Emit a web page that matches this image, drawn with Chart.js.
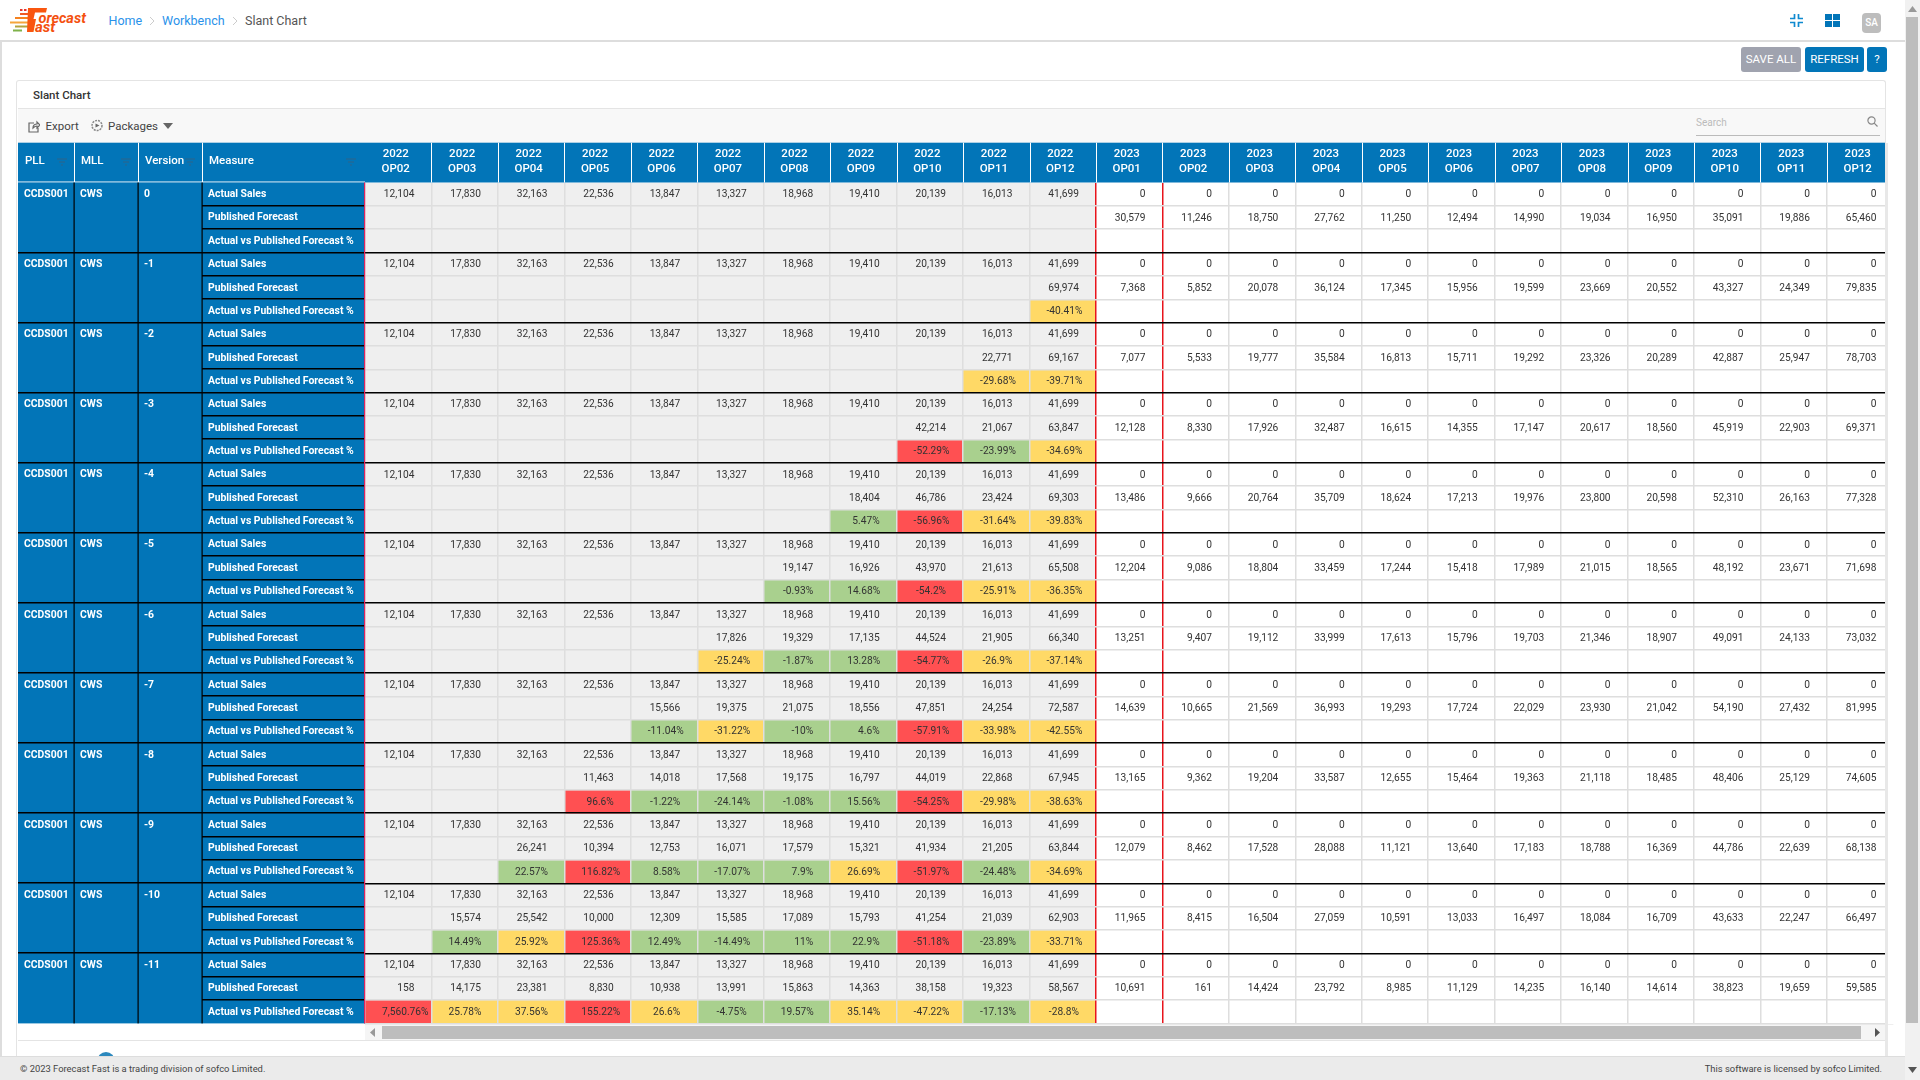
<!DOCTYPE html>
<html>
<head>
<meta charset="utf-8">
<title>Slant Chart</title>
<script src="https://cdn.jsdelivr.net/npm/chart.js@4"></script>
<style>
  html, body { margin: 0; padding: 0; width: 1920px; height: 1080px; overflow: hidden; background: #fff; font-family: Roboto, sans-serif; }
  .abs { position: absolute; white-space: nowrap; }
  #chartCanvas { position: absolute; left: 0; top: 0; z-index: 1; }
  .btn { position: absolute; top: 47px; height: 25px; line-height: 25px; text-align: center; color: #fff; font-size: 11.5px; border-radius: 3px; background: #0275b8; }
</style>
</head>
<body>
<!-- top bar -->
<div class="abs" style="left:0;top:40px;width:1905px;height:1.5px;background:#ddd"></div>
<div class="abs" style="left:0;top:41px;width:1.5px;height:1015px;background:#ddd"></div>
<svg class="abs" style="left:0;top:0" width="100" height="36">
  <rect x="20" y="9" width="2.5" height="2" fill="#e8352b"/>
  <rect x="24" y="9" width="2.5" height="2" fill="#e8352b"/>
  <rect x="20" y="13" width="8" height="2" fill="#f05a22"/>
  <rect x="15" y="17" width="14" height="2" fill="#f58220"/>
  <rect x="10" y="21.5" width="18" height="2" fill="#f6a53a"/>
  <rect x="15" y="25.5" width="13" height="2" fill="#b5a33c"/>
  <rect x="13" y="29.5" width="9" height="2" fill="#7fb24a"/>
  <path d="M28 8H47L46 12.5H35L33.5 19H36L33.5 32H27Z" fill="#f9560f"/>
  <text x="38.5" y="23" font-family="Roboto" font-weight="700" font-style="italic" font-size="14.5" fill="#f4500f">orecast</text>
  <text x="35" y="32" font-family="Roboto" font-weight="700" font-style="italic" font-size="15" fill="#f4500f">ast</text>
</svg>
<div class="abs" style="left:108.5px;top:13px;font-size:12.5px;color:#2a92ea">Home</div>
<svg class="abs" style="left:149px;top:16px" width="6" height="10" fill="none" stroke="#ccc"><path d="M1 1L5 5L1 9"/></svg>
<div class="abs" style="left:162px;top:13px;font-size:12.5px;color:#2a92ea">Workbench</div>
<svg class="abs" style="left:232px;top:16px" width="6" height="10" fill="none" stroke="#ccc"><path d="M1 1L5 5L1 9"/></svg>
<div class="abs" style="left:245px;top:13px;font-size:12.5px;color:#555">Slant Chart</div>
<svg class="abs" style="left:1790px;top:14px" width="13" height="13" fill="none" stroke="#0f8ad0" stroke-width="1.7">
  <path d="M4.5 0V4.5H0M8.5 0V4.5H13M4.5 13V8.5H0M8.5 13V8.5H13"/>
</svg>
<svg class="abs" style="left:1825px;top:14px" width="15" height="13" fill="#0275b8">
  <rect width="7" height="6"/><rect x="8" width="7" height="6"/><rect y="7" width="7" height="6"/><rect x="8" y="7" width="7" height="6"/>
</svg>
<div class="abs" style="left:1862px;top:13px;width:19px;height:20px;line-height:20px;background:#bdbdbd;color:#fff;border-radius:4px;text-align:center;font-size:10px;font-weight:500">SA</div>

<div class="btn" style="left:1741px;width:60px;background:#a0a3af">SAVE ALL</div>
<div class="btn" style="left:1805px;width:59px">REFRESH</div>
<div class="btn" style="left:1867px;width:20px">?</div>

<!-- card -->
<div class="abs" style="left:16px;top:80px;width:1870px;height:976px;border:1.5px solid #e4e4e4;border-bottom:none;border-radius:3px 3px 0 0;box-sizing:border-box"></div>
<div class="abs" style="left:33px;top:88px;font-size:11.5px;font-weight:500;color:#333">Slant Chart</div>
<div class="abs" style="left:18px;top:108px;width:1867px;height:35px;background:#f8f8f8;border-top:1.5px solid #e4e4e4;box-sizing:border-box"></div>
<svg class="abs" style="left:28px;top:120px" width="12" height="13" fill="none" stroke="#666" stroke-width="1.2">
  <path d="M6 3H1V12H10V8M5 8C5 5 7 4 9 4V2L12 5L9 8V6C7 6 6 7 5 8Z"/>
</svg>
<div class="abs" style="left:45.5px;top:119px;font-size:11.5px;color:#444">Export</div>
<svg class="abs" style="left:91px;top:119px" width="12" height="13">
  <circle cx="6" cy="6.5" r="5" fill="none" stroke="#888" stroke-width="1.5" stroke-dasharray="2 1"/>
  <path d="M4.5 4.5L8.5 6.5L4.5 8.5Z" fill="#666"/>
</svg>
<div class="abs" style="left:108px;top:119px;font-size:11.5px;color:#444">Packages</div>
<svg class="abs" style="left:163px;top:123px" width="10" height="6"><path d="M0 0H10L5 6Z" fill="#666"/></svg>
<div class="abs" style="left:1696px;top:117px;font-size:10px;color:#bbb">Search</div>
<div class="abs" style="left:1696px;top:135px;width:184px;height:1px;background:#bbb"></div>
<svg class="abs" style="left:1867px;top:116px" width="11" height="11" fill="none" stroke="#888" stroke-width="1.2">
  <circle cx="4.5" cy="4.5" r="3.6"/><path d="M7.2 7.2L10.5 10.5"/>
</svg>

<canvas id="chartCanvas" width="1920" height="1080"></canvas>

<!-- last column is cut by the card edge, filter icons, scrollbars, footer -->
<div class="abs" style="left:1885px;top:143px;width:3px;height:913px;background:#e8e8e8;z-index:2"></div>
<div class="abs" style="left:1888px;top:143px;width:9px;height:881px;background:#fff;z-index:2"></div>
<svg class="abs" style="left:57px;top:158px;z-index:2" width="10" height="8" stroke="#2f6488"><path d="M0 1H10M2 4H8M4 7H6"/></svg>
<svg class="abs" style="left:121px;top:158px;z-index:2" width="10" height="8" stroke="#2f6488"><path d="M0 1H10M2 4H8M4 7H6"/></svg>
<svg class="abs" style="left:185px;top:158px;z-index:2" width="10" height="8" stroke="#2f6488"><path d="M0 1H10M2 4H8M4 7H6"/></svg>
<svg class="abs" style="left:346px;top:158px;z-index:2" width="10" height="8" stroke="#2f6488"><path d="M0 1H10M2 4H8M4 7H6"/></svg>

<div class="abs" style="left:365px;top:1024px;width:1520px;height:16px;background:#f5f5f5"></div>
<div class="abs" style="left:382px;top:1026px;width:1479px;height:12.5px;background:#bdbdbd"></div>
<svg class="abs" style="left:370px;top:1028px" width="6" height="9"><path d="M5 0V9L0 4.5Z" fill="#999"/></svg>
<svg class="abs" style="left:1875px;top:1028px" width="6" height="9"><path d="M0 0V9L5 4.5Z" fill="#555"/></svg>
<div class="abs" style="left:18px;top:1040px;width:1867px;height:1px;background:#e4e4e4"></div>
<div class="abs" style="left:97px;top:1052px;width:18px;height:18px;border-radius:50%;background:#2b88bd"></div>

<div class="abs" style="left:0;top:1056px;width:1905px;height:24px;background:#ebebeb;border-top:1px solid #ddd;box-sizing:border-box;z-index:2"></div>
<div class="abs" style="left:20px;top:1063px;font-size:9.4px;color:#444;z-index:3">© 2023 Forecast Fast is a trading division of sofco Limited.</div>
<div class="abs" style="right:38px;top:1063px;font-size:9.4px;color:#444;z-index:3">This software is licensed by sofco Limited.</div>

<div class="abs" style="left:1905px;top:0;width:15px;height:1080px;background:#f1f1f1;z-index:3"></div>
<div class="abs" style="left:1905.5px;top:17px;width:12.5px;height:1006px;background:#bdbdbd;z-index:3"></div>
<svg class="abs" style="left:1908px;top:6px;z-index:3" width="9" height="6"><path d="M0 6H9L4.5 0Z" fill="#999"/></svg>
<svg class="abs" style="left:1908px;top:1067px;z-index:3" width="9" height="6"><path d="M0 0H9L4.5 6Z" fill="#555"/></svg>

<script>
// ---------- data ----------
const columnLabels = [
  ["2022","OP02"],["2022","OP03"],["2022","OP04"],["2022","OP05"],["2022","OP06"],["2022","OP07"],
  ["2022","OP08"],["2022","OP09"],["2022","OP10"],["2022","OP11"],["2022","OP12"],
  ["2023","OP01"],["2023","OP02"],["2023","OP03"],["2023","OP04"],["2023","OP05"],["2023","OP06"],
  ["2023","OP07"],["2023","OP08"],["2023","OP09"],["2023","OP10"],["2023","OP11"],["2023","OP12"]
];
const headerNames = ["PLL", "MLL", "Version", "Measure"];
const pllName = "CCDS001";
const mllName = "CWS";
const versions = [0, -1, -2, -3, -4, -5, -6, -7, -8, -9, -10, -11];
const measures = ["Actual Sales", "Published Forecast", "Actual vs Published Forecast %"];

const actualSales = [12104,17830,32163,22536,13847,13327,18968,19410,20139,16013,41699, 0,0,0,0,0,0,0,0,0,0,0,0];

const publishedV0 = [null,null,null,null,null,null,null,null,null,null,null, 30579,11246,18750,27762,11250,12494,14990,19034,16950,35091,19886,65460];
const publishedV1 = [null,null,null,null,null,null,null,null,null,null,69974, 7368,5852,20078,36124,17345,15956,19599,23669,20552,43327,24349,79835];
const publishedV2 = [null,null,null,null,null,null,null,null,null,22771,69167, 7077,5533,19777,35584,16813,15711,19292,23326,20289,42887,25947,78703];
const publishedV3 = [null,null,null,null,null,null,null,null,42214,21067,63847, 12128,8330,17926,32487,16615,14355,17147,20617,18560,45919,22903,69371];
const publishedV4 = [null,null,null,null,null,null,null,18404,46786,23424,69303, 13486,9666,20764,35709,18624,17213,19976,23800,20598,52310,26163,77328];
const publishedV5 = [null,null,null,null,null,null,19147,16926,43970,21613,65508, 12204,9086,18804,33459,17244,15418,17989,21015,18565,48192,23671,71698];
const publishedV6 = [null,null,null,null,null,17826,19329,17135,44524,21905,66340, 13251,9407,19112,33999,17613,15796,19703,21346,18907,49091,24133,73032];
const publishedV7 = [null,null,null,null,15566,19375,21075,18556,47851,24254,72587, 14639,10665,21569,36993,19293,17724,22029,23930,21042,54190,27432,81995];
const publishedV8 = [null,null,null,11463,14018,17568,19175,16797,44019,22868,67945, 13165,9362,19204,33587,12655,15464,19363,21118,18485,48406,25129,74605];
const publishedV9 = [null,null,26241,10394,12753,16071,17579,15321,41934,21205,63844, 12079,8462,17528,28088,11121,13640,17183,18788,16369,44786,22639,68138];
const publishedV10 = [null,15574,25542,10000,12309,15585,17089,15793,41254,21039,62903, 11965,8415,16504,27059,10591,13033,16497,18084,16709,43633,22247,66497];
const publishedV11 = [158,14175,23381,8830,10938,13991,15863,14363,38158,19323,58567, 10691,161,14424,23792,8985,11129,14235,16140,14614,38823,19659,59585];

const percentV0 = [null,null,null,null,null,null,null,null,null,null,null];
const percentV1 = [null,null,null,null,null,null,null,null,null,null,-40.41];
const percentV2 = [null,null,null,null,null,null,null,null,null,-29.68,-39.71];
const percentV3 = [null,null,null,null,null,null,null,null,-52.29,-23.99,-34.69];
const percentV4 = [null,null,null,null,null,null,null,5.47,-56.96,-31.64,-39.83];
const percentV5 = [null,null,null,null,null,null,-0.93,14.68,-54.2,-25.91,-36.35];
const percentV6 = [null,null,null,null,null,-25.24,-1.87,13.28,-54.77,-26.9,-37.14];
const percentV7 = [null,null,null,null,-11.04,-31.22,-10,4.6,-57.91,-33.98,-42.55];
const percentV8 = [null,null,null,96.6,-1.22,-24.14,-1.08,15.56,-54.25,-29.98,-38.63];
const percentV9 = [null,null,22.57,116.82,8.58,-17.07,7.9,26.69,-51.97,-24.48,-34.69];
const percentV10 = [null,14.49,25.92,125.36,12.49,-14.49,11,22.9,-51.18,-23.89,-33.71];
const percentV11 = [7560.76,25.78,37.56,155.22,26.6,-4.75,19.57,35.14,-47.22,-17.13,-28.8];

const publishedRows = [publishedV0,publishedV1,publishedV2,publishedV3,publishedV4,publishedV5,publishedV6,publishedV7,publishedV8,publishedV9,publishedV10,publishedV11];
const percentRows = [percentV0,percentV1,percentV2,percentV3,percentV4,percentV5,percentV6,percentV7,percentV8,percentV9,percentV10,percentV11];

// ---------- styles ----------
const BLUE = "#0275b8";
const LINE = "#dedede";
const FROZEN_COLS = 11;   // 2022 columns are the grey frozen part
const leftEdges = [18, 74, 138, 202, 365];
const textFont = "10.2px Roboto";
const boldFont = "700 10.4px Roboto";

function heatColor(v) {
  const a = Math.abs(v);
  if (a < 25) return "#a9d08e";
  if (a < 50) return "#ffd966";
  return "#ff5052";
}

// one entry per table row: values + how to print them
const tableRows = [];
versions.forEach((_, i) => {
  tableRows.push({ values: actualSales, pct: false });
  tableRows.push({ values: publishedRows[i], pct: false });
  tableRows.push({ values: percentRows[i], pct: true });
});

const datasets = tableRows.map((row, r) => ({
  data: columnLabels.map(() => [r, r + 1]),
  backgroundColor: columnLabels.map((_, c) => {
    const v = row.values[c];
    if (row.pct && v != null) return heatColor(v);
    return c < FROZEN_COLS ? "#efefef" : "#ffffff";
  }),
  grouped: false,
  barPercentage: 1,
  categoryPercentage: 1,
  borderWidth: 0,
  borderSkipped: false
}));

// header band goes under the tick labels
const headerPlugin = {
  id: "headerBand",
  beforeDraw(chart) {
    const { ctx, chartArea } = chart;
    const top = 142.7;
    ctx.save();
    ctx.fillStyle = BLUE;
    ctx.fillRect(18, top, 1885 - 18, chartArea.top - top);
    ctx.fillStyle = "#fff";
    ctx.fillRect(18, chartArea.top - 1, 347, 1);
    const x = chart.scales.x;
    for (let i = 0; i < columnLabels.length; i++) {
      ctx.fillRect(Math.round(x.getPixelForTick(i) + x.width / columnLabels.length / 2), top, 1, chartArea.top - top);
    }
    leftEdges.slice(1, 4).forEach(e => ctx.fillRect(e, top, 1, chartArea.top - top));
    ctx.font = "500 11.5px Roboto";
    ctx.textBaseline = "middle";
    headerNames.forEach((name, i) => ctx.fillText(name, leftEdges[i] + 7, 161.5));
    ctx.restore();
  }
};

// cell texts and the frozen blue columns, placed from the scales
const cellPlugin = {
  id: "cells",
  afterDraw(chart) {
    const { ctx, chartArea } = chart;
    const y = chart.scales.y;
    ctx.save();
    ctx.textBaseline = "middle";

    ctx.font = textFont;
    ctx.fillStyle = "#333";
    tableRows.forEach((row, r) => {
      const bars = chart.getDatasetMeta(r).data;
      row.values.forEach((v, c) => {
        if (v == null) return;
        const txt = v.toLocaleString("en-US") + (row.pct ? "%" : "");
        const bar = bars[c];
        const left = bar.x - bar.width / 2, right = bar.x + bar.width / 2;
        const w = ctx.measureText(txt).width;
        // right aligned in the padded box, wider text runs over the padding
        const tx = w > right - left - 34 ? left + 17 : right - 17 - w;
        ctx.fillText(txt, tx, y.getPixelForValue(r + 0.5) + 0.5);
      });
    });

    // frozen columns
    ctx.fillStyle = BLUE;
    ctx.fillRect(18, chartArea.top, 347, chartArea.bottom - chartArea.top);
    ctx.fillStyle = "#000";
    versions.forEach((_, i) => {
      const r = i * 3;
      if (i > 0) ctx.fillRect(18, Math.round(y.getPixelForValue(r)) - 1, 347, 1.5);
      ctx.fillRect(leftEdges[3], Math.round(y.getPixelForValue(r + 1)) - 1, 163, 1.5);
      ctx.fillRect(leftEdges[3], Math.round(y.getPixelForValue(r + 2)) - 1, 163, 1.5);
    });
    leftEdges.slice(1, 4).forEach(e => ctx.fillRect(e - 0.5, chartArea.top, 1.2, chartArea.bottom - chartArea.top));
    ctx.fillStyle = "#e0245e";
    ctx.fillRect(364, chartArea.top, 1.2, chartArea.bottom - chartArea.top);

    ctx.font = boldFont;
    ctx.fillStyle = "#fff";
    versions.forEach((v, i) => {
      const r = i * 3;
      const py = y.getPixelForValue(r + 0.5) + 0.3;
      ctx.fillText(pllName, leftEdges[0] + 6, py);
      ctx.fillText(mllName, leftEdges[1] + 6, py);
      ctx.fillText(String(v), leftEdges[2] + 6, py);
      measures.forEach((m, k) => ctx.fillText(m, leftEdges[3] + 6, y.getPixelForValue(r + k + 0.5) + 0.3));
    });
    ctx.restore();
  }
};

new Chart(document.getElementById("chartCanvas"), {
  type: "bar",
  data: { labels: columnLabels, datasets },
  plugins: [headerPlugin, cellPlugin],
  options: {
    responsive: false,
    animation: false,
    devicePixelRatio: 1,
    layout: { padding: { left: 365, right: 26.6, top: 0, bottom: 56.6 } },
    plugins: { legend: { display: false }, tooltip: { enabled: false } },
    scales: {
      x: {
        position: "top",
        afterFit(s) { s.height = 182.5; },
        border: { display: false },
        grid: {
          z: 1,
          drawTicks: false,
          lineWidth: 1.5,
          color: ctx => (ctx.index === 11 || ctx.index === 12) ? "#e8141c" : LINE
        },
        ticks: {
          color: "#fff",
          autoSkip: false,
          maxRotation: 0,
          padding: 6,
          labelOffset: -2.5,
          font: { family: "Roboto", size: 11.5, weight: "500", lineHeight: 1.3 }
        }
      },
      y: {
        reverse: true,
        min: 0,
        max: tableRows.length,
        afterFit(s) { s.width = 0; },
        border: { display: false },
        grid: {
          z: 1,
          drawTicks: false,
          lineWidth: 1.5,
          color: ctx => {
            const v = ctx.tick.value;
            if (v === 0) return "transparent";
            if (v === tableRows.length) return LINE;
            return v % 3 === 0 ? "#000" : LINE;
          }
        },
        ticks: { display: false, stepSize: 1 }
      }
    }
  }
});
</script>
</body>
</html>
